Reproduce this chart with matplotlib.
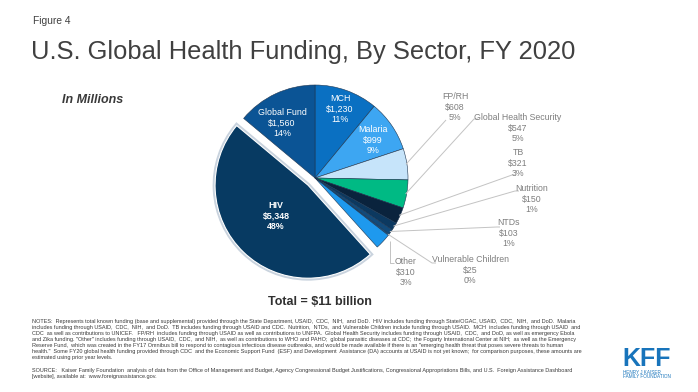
import matplotlib
matplotlib.use("Agg")
import matplotlib.pyplot as plt
import matplotlib.patheffects as pe
import numpy as np

plt.rcParams['font.family'] = ['Liberation Sans', 'DejaVu Sans']

# ---- data ----
sectors = ["MCH", "Malaria", "FP/RH", "Global Health Security", "TB", "Nutrition",
           "NTDs", "Vulnerable Children", "Other", "HIV", "Global Fund"]
funding = [1230, 999, 608, 547, 321, 150, 103, 25, 310, 5348, 1560]
title = "U.S. Global Health Funding, By Sector, FY 2020"
total_label = "Total = $11 billion"

# ---- styles ----
colors = ["#0A70C2", "#3DA6F2", "#C6E4FA", "#00BA84", "#0A233D", "#0C3960",
          "#124B7B", "#1A5E94", "#1E99EE", "#073A62", "#0B5495"]
W, H = 698, 392
fig = plt.figure(figsize=(W / 100, H / 100), dpi=100)
fig.patch.set_facecolor("white")
ax = fig.add_axes([0, 0, 1, 1])

def Y(y):
    return H - y

cx, cy, R = 315, 178, 93
explode = [10 if s == "HIV" else 0 for s in sectors]
wedges, _ = ax.pie(funding, colors=colors, startangle=90, counterclock=False,
                   radius=R, center=(cx, Y(cy)), explode=explode,
                   wedgeprops=dict(edgecolor="#1d3550", linewidth=0.4))
ax.set_xlim(0, W)
ax.set_ylim(0, H)
ax.set_aspect("auto")
ax.axis("off")

total = sum(funding)
for w, s in zip(wedges, sectors):
    if s == "HIV":
        w.set_path_effects([pe.Stroke(linewidth=3.5, foreground="#c9d3de"), pe.Normal()])
        w.set_edgecolor("white")
        w.set_linewidth(0.8)

def lab(s, v):
    return f"{s}\n${v:,}\n{round(v / total * 100):d}%"

# inside labels (image coords of text center)
inside = {"Global Fund": (282, 123), "MCH": (340, 109), "Malaria": (373, 140), "HIV": (276, 216)}
for s, v in zip(sectors, funding):
    if s in inside:
        x, y = inside[s]
        ax.text(x, Y(y), lab(s, v), color="white", ha="center", va="center",
                fontsize=6.4, linespacing=1.15,
                fontweight="bold" if s == "HIV" else "normal")

# outside labels: text center, leader end points
outside = {
    "FP/RH": ((455, 107), [(446, 120)]),
    "Global Health Security": ((518, 128), [(474, 119), (478, 119)]),
    "TB": ((518, 163), [(512, 175), (516, 175)]),
    "Nutrition": ((532, 199), [(515, 191), (519, 191)]),
    "NTDs": ((509, 233), [(497, 227), (500, 227)]),
    "Vulnerable Children": ((470, 270), [(432, 263), (436, 263)]),
    "Other": ((406, 272), [(390, 263), (394, 263)]),
}
for w, s, v in zip(wedges, sectors, funding):
    if s in outside:
        (tx, ty), pts = outside[s]
        mid = np.deg2rad((w.theta1 + w.theta2) / 2)
        sx = cx + (R - 1) * np.cos(mid)
        sy = Y(cy) + (R - 1) * np.sin(mid)
        if s == "Other":
            xs = [pts[0][0], pts[0][0], pts[1][0]]
            ys = [sy, Y(pts[0][1]), Y(pts[1][1])]
        else:
            xs = [sx] + [p[0] for p in pts]
            ys = [sy] + [Y(p[1]) for p in pts]
        ax.plot(xs, ys, color="#c3c3c3", lw=0.7, solid_capstyle="butt")
        ax.text(tx, Y(ty), lab(s, v), color="#7f7f7f", ha="center", va="center",
                fontsize=6.3, linespacing=1.15)

# headings
ax.text(33, Y(21), "Figure 4", fontsize=7.4, color="#404040", va="center", ha="left")
ax.text(31, Y(59), title, fontsize=18.4, color="#404040", va="baseline", ha="left")
ax.text(62, Y(100), "In Millions", fontsize=9, color="#3a3a3a", fontweight="bold",
        fontstyle="italic", va="center", ha="left")
ax.text(320, Y(302), total_label, fontsize=9, color="#303030", fontweight="bold",
        va="center", ha="center")

notes = ("NOTES:  Represents total known funding (base and supplemental) provided through the State Department, USAID,  CDC,  NIH,  and DoD.  HIV includes funding through State/OGAC, USAID,  CDC,  NIH,  and DoD.  Malaria\n"
         "includes funding through USAID,  CDC,  NIH,  and DoD.  TB includes funding through USAID and CDC.  Nutrition,  NTDs,  and Vulnerable Children include funding through USAID.  MCH  includes funding through USAID  and\n"
         "CDC  as well as contributions to UNICEF.   FP/RH  includes funding through USAID as well as contributions to UNFPA.  Global Health Security includes funding through USAID,  CDC,  and DoD, as well as emergency Ebola\n"
         "and Zika funding. \"Other\" includes funding through USAID,  CDC,  and NIH,  as well as contributions to WHO and PAHO;  global parasitic diseases at CDC;  the Fogarty International Center at NIH;  as well as the Emergency\n"
         "Reserve Fund,  which was created in the FY17 Omnibus bill to respond to contagious infectious disease outbreaks, and would be made available if there is an \"emerging health threat that poses severe threats to human\n"
         "health.\"  Some FY20 global health funding provided through CDC  and the Economic Support Fund  (ESF) and Development  Assistance (DA) accounts at USAID is not yet known;  for comparison purposes, these amounts are\n"
         "estimated using prior year levels.")
source = ("SOURCE:   Kaiser Family Foundation  analysis of data from the Office of Management and Budget, Agency Congressional Budget Justifications, Congressional Appropriations Bills, and U.S.  Foreign Assistance Dashboard\n"
          "[website], available at:  www.foreignassistance.gov.")
ax.text(32, Y(319), notes, fontsize=3.95, color="#3a3a3a", va="top", ha="left", linespacing=1.25)
ax.text(32, Y(368), source, fontsize=3.95, color="#3a3a3a", va="top", ha="left", linespacing=1.25)

# KFF logo as text
kff_blue = "#1874BB"
ax.text(622, Y(365.5), "KFF", fontsize=18, fontweight="bold", color=kff_blue,
        va="baseline", ha="left")
ax.text(623, Y(372), "HENRY J KAISER", fontsize=3.3, color=kff_blue, va="center", ha="left")
ax.text(623, Y(377), "FAMILY FOUNDATION", fontsize=3.3, color=kff_blue, va="center", ha="left")

fig.savefig("out.png", dpi=100, facecolor="white")
